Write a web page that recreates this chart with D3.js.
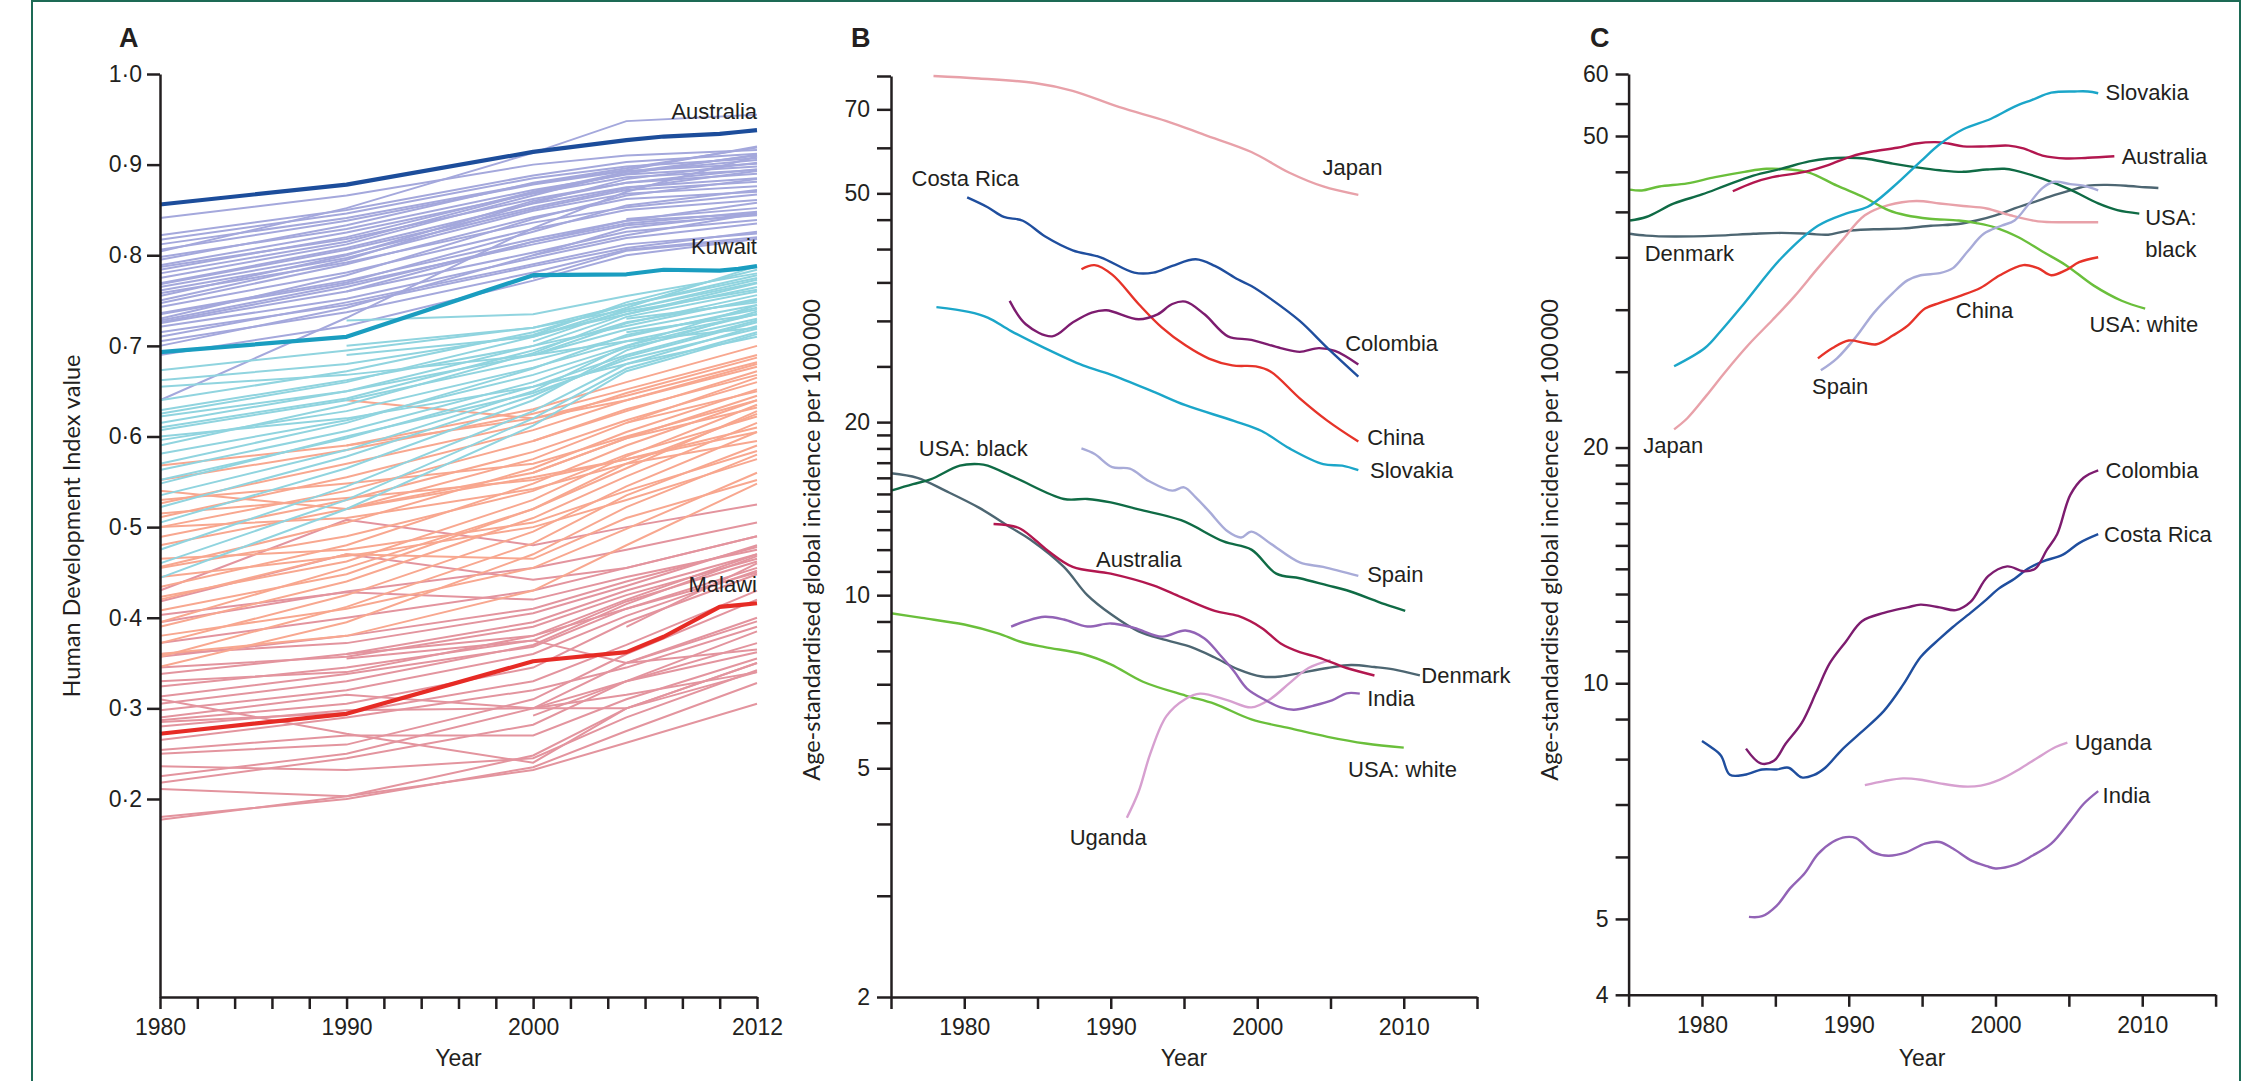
<!DOCTYPE html>
<html>
<head>
  <meta charset="UTF-8">
  <title>HDI and incidence trends</title>
  <style>
    body { margin: 0; background: #fff; }
    svg text { font-family: "Liberation Sans", Arial, sans-serif; fill: #231f20; }
    .axis path, .axis line { stroke: #231f20; stroke-width: 2.5; }
    .axis text { font-size: 23px; }
    .ytitle { font-family: Lato, "Noto Sans", sans-serif !important; font-size: 23.5px; }
    .lbl { font-size: 22px; }
    .panel { font-size: 27px; font-weight: bold; }
  </style>
</head>
<body>
<script src="https://cdnjs.cloudflare.com/ajax/libs/d3/7.8.5/d3.min.js"></script>
<script>
// ---- panel A: HDI by country, 1980-2012 ----
const hdiYears = [1980, 1990, 2000, 2005, 2012];

const hdiVeryHigh = [
  [0.804, 0.852, 0.913, 0.948, 0.955],
  [0.841, 0.866, 0.900, 0.910, 0.916],
  [0.822, 0.850, 0.888, 0.903, 0.912],
  [0.817, 0.846, 0.885, 0.898, 0.907],
  [0.806, 0.838, 0.878, 0.893, 0.901],
  [0.798, 0.829, 0.872, 0.889, 0.898],
  [0.789, 0.825, 0.868, 0.886, 0.894],
  [0.787, 0.818, 0.862, 0.880, 0.890],
  [0.769, 0.808, 0.857, 0.875, 0.885],
  [0.765, 0.801, 0.851, 0.872, 0.881],
  [0.761, 0.797, 0.849, 0.868, 0.876],
  [0.747, 0.790, 0.842, 0.862, 0.870],
  [0.743, 0.781, 0.829, 0.850, 0.861],
  [0.736, 0.772, 0.818, 0.838, 0.846],
  [0.728, 0.768, 0.812, 0.833, 0.844],
  [0.725, 0.760, 0.803, 0.826, 0.839],
  [0.721, 0.752, 0.797, 0.819, 0.835],
  [0.710, 0.748, 0.790, 0.812, 0.824],
  [0.705, 0.737, 0.781, 0.806, 0.820],
  [0.640, 0.731, 0.830, 0.870, 0.909],
  [0.780, 0.815, 0.869, 0.890, 0.911],
  [0.775, 0.812, 0.866, 0.892, 0.910],
  [0.750, 0.795, 0.858, 0.884, 0.902],
  [0.755, 0.800, 0.860, 0.880, 0.895],
  [0.730, 0.778, 0.840, 0.866, 0.884],
  [0.700, 0.742, 0.800, 0.822, 0.846],
  [0.735, 0.770, 0.826, 0.855, 0.872],
  [0.795, 0.833, 0.880, 0.896, 0.919],
  [0.812, 0.841, 0.879, 0.894, 0.920],
  [0.758, 0.792, 0.836, 0.853, 0.867],
  [null, 0.760, 0.815, 0.835, 0.848],
  [null, null, 0.800, 0.830, 0.846],
  [null, null, 0.775, 0.805, 0.818],
  [null, null, null, 0.840, 0.852],
  [0.690, 0.722, 0.772, 0.800, 0.818],
  [0.715, 0.745, 0.788, 0.808, 0.826],
  [0.768, 0.806, 0.853, 0.874, 0.893],
  [0.784, 0.820, 0.870, 0.892, 0.905],
  [0.726, 0.765, 0.815, 0.838, 0.858]
];

const hdiHigh = [
  [0.673, 0.695, 0.720, 0.740, 0.770],
  [0.662, 0.680, 0.712, 0.735, 0.765],
  [0.629, 0.662, 0.700, 0.722, 0.752],
  [0.622, 0.650, 0.690, 0.718, 0.745],
  [0.607, 0.640, 0.684, 0.710, 0.742],
  [0.596, 0.628, 0.676, 0.705, 0.735],
  [0.581, 0.618, 0.668, 0.700, 0.735],
  [0.563, 0.606, 0.660, 0.698, 0.730],
  [0.552, 0.598, 0.655, 0.690, 0.728],
  [0.522, 0.578, 0.645, 0.688, 0.726],
  [0.475, 0.545, 0.628, 0.680, 0.722],
  [0.460, 0.530, 0.620, 0.675, 0.715],
  [0.444, 0.520, 0.612, 0.672, 0.713],
  [0.640, 0.672, 0.715, 0.745, 0.778],
  [0.615, 0.650, 0.700, 0.735, 0.769],
  [0.590, 0.635, 0.692, 0.732, 0.760],
  [0.570, 0.615, 0.675, 0.712, 0.740],
  [0.535, 0.585, 0.650, 0.700, 0.745],
  [0.600, 0.620, 0.655, 0.680, 0.710],
  [0.655, 0.668, 0.690, 0.705, 0.720],
  [null, 0.728, 0.735, 0.755, 0.780],
  [null, 0.700, 0.720, 0.745, 0.775],
  [null, null, 0.705, 0.740, 0.773],
  [null, null, 0.712, 0.748, 0.784],
  [null, null, 0.690, 0.725, 0.756],
  [null, null, null, 0.730, 0.748],
  [null, null, null, 0.715, 0.735],
  [0.548, 0.600, 0.648, 0.685, 0.719],
  [0.505, 0.565, 0.640, 0.695, 0.738],
  [0.625, 0.660, 0.710, 0.738, 0.762],
  [0.610, 0.642, 0.695, 0.726, 0.750],
  [null, 0.690, 0.710, 0.742, 0.788]
];

const hdiMedium = [
  [0.568, 0.590, 0.630, 0.660, 0.700],
  [0.552, 0.585, 0.625, 0.652, 0.690],
  [0.526, 0.570, 0.615, 0.648, 0.687],
  [0.511, 0.555, 0.607, 0.640, 0.680],
  [0.500, 0.540, 0.595, 0.628, 0.672],
  [0.530, 0.548, 0.570, 0.600, 0.640],
  [0.489, 0.530, 0.583, 0.618, 0.660],
  [0.456, 0.505, 0.565, 0.605, 0.652],
  [0.434, 0.480, 0.548, 0.590, 0.640],
  [0.423, 0.462, 0.530, 0.578, 0.635],
  [0.408, 0.448, 0.520, 0.565, 0.628],
  [0.390, 0.440, 0.510, 0.556, 0.615],
  [0.372, 0.425, 0.495, 0.545, 0.605],
  [0.357, 0.412, 0.482, 0.535, 0.590],
  [0.346, 0.395, 0.470, 0.522, 0.580],
  [0.480, 0.520, 0.555, 0.575, 0.605],
  [0.465, 0.475, 0.505, 0.540, 0.584],
  [0.445, 0.468, 0.500, 0.530, 0.575],
  [0.515, 0.532, 0.552, 0.575, 0.610],
  [0.540, 0.520, 0.560, 0.598, 0.645],
  [null, 0.520, 0.575, 0.615, 0.665],
  [null, 0.640, 0.620, 0.640, 0.677],
  [null, 0.590, 0.620, 0.645, 0.682],
  [null, null, 0.595, 0.630, 0.668],
  [null, null, 0.560, 0.598, 0.632],
  [null, null, null, 0.615, 0.650],
  [0.420, 0.470, 0.465, 0.510, 0.552],
  [0.380, 0.410, 0.455, 0.498, 0.560],
  [0.360, 0.380, 0.430, 0.480, 0.548],
  [0.500, 0.510, 0.542, 0.570, 0.595],
  [0.455, 0.490, 0.540, 0.580, 0.622],
  [0.395, 0.455, 0.520, 0.570, 0.625]
];

const hdiLow = [
  [0.403, 0.428, 0.420, 0.445, 0.475],
  [0.372, 0.400, 0.430, 0.455, 0.490],
  [0.357, 0.380, 0.410, 0.440, 0.478],
  [0.338, 0.360, 0.395, 0.430, 0.470],
  [0.324, 0.345, 0.375, 0.418, 0.462],
  [0.313, 0.338, 0.368, 0.410, 0.455],
  [0.298, 0.320, 0.360, 0.402, 0.452],
  [0.287, 0.305, 0.345, 0.395, 0.448],
  [0.280, 0.298, 0.300, 0.330, 0.372],
  [0.254, 0.270, 0.270, 0.310, 0.355],
  [0.236, 0.232, 0.245, 0.290, 0.342],
  [0.218, 0.245, 0.282, 0.330, 0.385],
  [0.211, 0.203, 0.232, 0.262, 0.305],
  [0.180, 0.200, 0.235, 0.275, 0.328],
  [0.177, 0.203, 0.248, 0.300, 0.350],
  [0.418, 0.470, 0.442, 0.455, 0.490],
  [0.430, 0.508, 0.480, 0.500, 0.525],
  [0.395, 0.429, 0.455, 0.475, 0.505],
  [0.345, 0.357, 0.390, 0.425, 0.465],
  [0.310, 0.272, 0.240, 0.300, 0.350],
  [0.290, 0.315, 0.300, 0.315, 0.340],
  [0.265, 0.290, 0.320, 0.345, 0.390],
  [0.250, 0.260, 0.310, 0.360, 0.420],
  [0.225, 0.250, 0.300, 0.350, 0.396],
  [null, 0.360, 0.380, 0.410, 0.450],
  [null, 0.355, 0.375, 0.350, 0.365],
  [null, null, 0.292, 0.330, 0.362],
  [null, null, 0.300, 0.300, 0.340],
  [null, null, null, 0.350, 0.400],
  [null, null, null, 0.390, 0.460],
  [0.330, 0.340, 0.380, 0.420, 0.470],
  [0.305, 0.330, 0.370, 0.415, 0.468],
  [0.285, 0.295, 0.330, 0.370, 0.430],
  [0.360, 0.372, 0.405, 0.435, 0.480]
];

const focusYears = [1980, 1990, 2000, 2005, 2007, 2010, 2011, 2012];
const hdiAustralia = [0.856, 0.878, 0.914, 0.927, 0.931, 0.934, 0.936, 0.938];
const hdiKuwait    = [0.693, 0.710, 0.778, 0.779, 0.784, 0.783, 0.785, 0.788];
const hdiMalawi    = [0.272, 0.294, 0.352, 0.362, 0.379, 0.412, 0.414, 0.416];

// ---- panel B: declining incidence [year, rate] ----
const bJapan = [[1977.9,80.0],[1981,79.2],[1984.8,77.8],[1987.4,75.4],[1990.6,70.6],[1993.8,66.8],[1996.4,63.2],[1999.6,59.0],[2002.2,54.3],[2004.5,51.4],[2006.9,49.7]];
const bCostaRica = [[1980.2,49.2],[1981.6,47.3],[1982.7,45.5],[1984.0,44.8],[1985.5,42.1],[1987.4,39.8],[1989.3,38.7],[1991.6,36.4],[1992.9,36.4],[1994.2,37.4],[1995.8,38.4],[1997.1,37.4],[1998.7,35.4],[1999.6,34.5],[2000.9,32.8],[2002.9,30.0],[2004.8,26.9],[2006.9,24.0]];
const bColombia = [[1983.1,32.5],[1984.2,29.6],[1986.0,28.2],[1987.4,29.8],[1988.7,31.0],[1989.7,31.3],[1991.9,30.2],[1993.2,30.8],[1994.2,32.1],[1995.1,32.4],[1996.4,30.8],[1998.0,28.2],[1999.6,27.8],[2001.6,26.9],[2002.9,26.5],[2004.2,26.9],[2005.3,26.6],[2006.9,25.2]];
const bChina = [[1988.0,36.9],[1988.9,37.5],[1990.1,36.1],[1991.9,32.1],[1993.5,29.2],[1995.1,27.2],[1996.7,25.8],[1998.3,25.1],[1999.9,25.0],[2000.9,24.5],[2002.9,22.0],[2004.8,20.1],[2006.9,18.5]];
const bSlovakia = [[1978.1,31.7],[1980.3,31.1],[1981.6,30.4],[1983.2,28.8],[1985.5,26.9],[1988.1,25.1],[1990.0,24.2],[1992.9,22.6],[1995.1,21.4],[1998.4,20.1],[2000.3,19.3],[2002.2,18.0],[2004.5,16.9],[2005.8,16.8],[2006.9,16.5]];
const bSpain = [[1988.0,18.0],[1988.9,17.6],[1990.1,16.7],[1991.3,16.6],[1992.6,15.8],[1994.2,15.2],[1995.0,15.4],[1995.8,14.8],[1996.7,14.0],[1998.0,12.9],[1998.9,12.6],[1999.6,12.9],[2000.9,12.3],[2002.9,11.4],[2004.5,11.2],[2006.9,10.8]];
const bUsaBlack = [[1975.0,15.2],[1976.5,15.6],[1977.7,15.9],[1979.7,16.8],[1981.0,16.9],[1981.6,16.8],[1983.5,16.0],[1986.8,14.7],[1988.4,14.7],[1990.0,14.5],[1991.9,14.1],[1994.8,13.5],[1997.7,12.4],[1999.6,12.0],[2001.3,10.9],[2002.9,10.7],[2004.8,10.4],[2006.1,10.2],[2008.7,9.65],[2010.1,9.39]];
const bDenmark = [[1975.0,16.3],[1976.8,16.0],[1978.7,15.2],[1981.0,14.2],[1983.2,13.1],[1984.5,12.5],[1986.8,11.2],[1988.4,10.0],[1990.0,9.27],[1991.9,8.65],[1993.8,8.35],[1995.5,8.12],[1997.1,7.79],[1998.7,7.43],[2000.3,7.22],[2001.6,7.22],[2002.9,7.32],[2004.8,7.47],[2006.4,7.56],[2008.0,7.5],[2009.3,7.43],[2011.1,7.25]];
const bAustralia = [[1982.0,13.3],[1983.7,13.1],[1984.8,12.5],[1985.8,11.9],[1987.4,11.2],[1990.0,10.9],[1992.9,10.4],[1994.8,9.92],[1997.1,9.39],[1998.7,9.2],[2000.3,8.77],[2001.6,8.24],[2002.9,7.96],[2004.2,7.79],[2006.1,7.47],[2008.0,7.25]];
const bIndia = [[1983.2,8.82],[1984.2,9.01],[1985.5,9.17],[1986.8,9.07],[1988.4,8.82],[1990.0,8.93],[1991.6,8.77],[1993.5,8.47],[1995.1,8.68],[1996.4,8.41],[1997.4,7.9],[1998.4,7.38],[1999.3,6.88],[2000.6,6.56],[2001.6,6.38],[2002.5,6.32],[2003.8,6.42],[2005.1,6.56],[2006.1,6.75],[2007.0,6.74]];
const bUganda = [[1991.1,4.1],[1991.9,4.55],[1992.7,5.3],[1993.8,6.16],[1995.1,6.6],[1996.1,6.74],[1998.0,6.56],[1999.6,6.38],[2000.9,6.6],[2002.2,7.03],[2003.5,7.47],[2005.0,7.71]];
const bUsaWhite = [[1975.0,9.3],[1977.1,9.13],[1980.0,8.89],[1982.3,8.58],[1983.9,8.29],[1985.5,8.12],[1988.1,7.9],[1990.0,7.58],[1992.2,7.07],[1995.1,6.69],[1997.1,6.47],[1999.6,6.08],[2002.2,5.87],[2004.8,5.67],[2007.4,5.52],[2010.0,5.43]];

// ---- panel C: increasing incidence [year, rate] ----
const cSlovakia = [[1978.1,25.4],[1980.2,26.8],[1981.3,28.2],[1982.9,30.6],[1985.4,34.9],[1987.9,38.4],[1989.8,39.8],[1991.3,40.6],[1993.0,43.0],[1994.9,46.4],[1996.2,48.8],[1997.8,51.0],[1999.7,52.6],[2001.3,54.5],[2002.5,55.6],[2003.8,56.8],[2005.4,57.0],[2006.3,57.0],[2007.0,56.7]];
const cAustralia = [[1982.1,42.5],[1983.5,43.6],[1984.8,44.3],[1987.0,45.0],[1988.6,45.9],[1990.2,47.1],[1991.7,47.8],[1993.3,48.3],[1994.6,48.9],[1995.9,49.1],[1996.8,48.9],[1997.8,48.5],[1999.4,48.5],[2000.9,48.6],[2001.9,48.2],[2003.2,47.2],[2004.8,46.8],[2006.3,46.9],[2008.1,47.1]];
const cUsaBlack = [[1975.1,39.0],[1976.2,39.4],[1978.1,41.0],[1980.0,42.1],[1981.6,43.2],[1983.5,44.5],[1985.4,45.4],[1987.3,46.4],[1988.6,46.8],[1989.8,46.9],[1991.1,46.8],[1993.0,46.1],[1994.6,45.6],[1996.2,45.2],[1997.8,45.0],[1999.4,45.3],[2000.6,45.4],[2001.3,45.2],[2003.2,44.1],[2005.1,42.7],[2007.0,41.0],[2008.3,40.2],[2009.8,39.8]];
const cUsaWhite = [[1975.1,42.7],[1975.9,42.6],[1977.1,43.1],[1979.0,43.5],[1980.9,44.3],[1982.9,45.0],[1984.4,45.4],[1986.0,45.3],[1987.3,44.9],[1989.2,43.2],[1991.1,41.7],[1992.7,40.2],[1993.9,39.6],[1995.5,39.2],[1997.5,39.0],[1998.7,38.7],[2000.0,38.2],[2001.6,37.1],[2003.2,35.6],[2004.8,34.2],[2006.7,32.2],[2008.6,30.8],[2010.2,30.1]];
const cJapan = [[1978.1,21.1],[1979.0,21.8],[1980.3,23.3],[1981.6,25.0],[1983.2,27.1],[1984.8,29.1],[1986.3,31.2],[1987.9,33.9],[1989.5,36.7],[1991.1,39.6],[1992.7,40.8],[1994.6,41.3],[1996.2,41.0],[1997.8,40.7],[1999.4,40.4],[2001.0,39.6],[2002.9,38.9],[2004.8,38.8],[2007.0,38.8]];
const cDenmark = [[1975.1,37.5],[1976.2,37.3],[1978.1,37.2],[1981.0,37.3],[1983.5,37.5],[1985.4,37.6],[1987.3,37.5],[1988.6,37.4],[1989.8,37.8],[1991.7,38.0],[1993.7,38.1],[1995.6,38.4],[1997.5,38.6],[1998.7,39.0],[2000.0,39.6],[2001.3,40.4],[2002.5,41.1],[2003.8,41.9],[2005.1,42.6],[2006.3,43.2],[2007.6,43.3],[2008.9,43.2],[2010.2,43.0],[2011.1,42.9]];
const cSpain = [[1988.1,25.1],[1989.2,26.0],[1990.5,27.7],[1991.7,29.7],[1993.0,31.5],[1994.0,32.7],[1994.9,33.2],[1996.2,33.4],[1997.1,33.9],[1998.1,35.6],[1999.2,37.5],[2000.4,38.4],[2001.3,39.0],[2002.3,41.0],[2003.2,42.9],[2004.0,43.7],[2005.1,43.4],[2006.0,43.2],[2007.0,42.6]];
const cChina = [[1987.9,26.0],[1988.9,26.8],[1990.0,27.4],[1991.1,27.2],[1991.9,27.1],[1993.0,27.8],[1994.0,28.6],[1995.2,30.1],[1996.2,30.6],[1997.5,31.2],[1999.0,32.0],[2000.3,33.2],[2001.9,34.2],[2002.9,33.9],[2003.8,33.2],[2004.8,33.7],[2005.7,34.5],[2007.0,35.0]];
const cColombia = [[1983.0,8.25],[1984.0,7.90],[1984.9,7.96],[1985.7,8.37],[1986.8,8.90],[1987.8,9.75],[1988.7,10.6],[1989.8,11.3],[1990.9,12.0],[1992.4,12.3],[1994.0,12.5],[1994.9,12.6],[1996.2,12.5],[1997.3,12.4],[1998.3,12.7],[1999.5,13.7],[2000.8,14.1],[2001.9,13.9],[2002.7,14.0],[2003.5,14.8],[2004.2,15.5],[2005.1,17.4],[2006.0,18.3],[2007.0,18.7]];
const cCostaRica = [[1980.0,8.44],[1980.6,8.29],[1981.3,8.08],[1981.9,7.64],[1982.9,7.64],[1984.1,7.76],[1985.1,7.76],[1985.9,7.80],[1986.8,7.58],[1987.6,7.63],[1988.4,7.80],[1989.5,8.21],[1990.8,8.64],[1992.4,9.22],[1993.7,9.95],[1994.9,10.8],[1996.2,11.4],[1997.1,11.8],[1998.3,12.3],[1999.4,12.8],[2000.2,13.2],[2001.3,13.6],[2002.2,14.0],[2003.2,14.3],[2004.6,14.6],[2005.7,15.1],[2007.0,15.5]];
const cUganda = [[1991.1,7.41],[1992.4,7.50],[1993.7,7.56],[1994.9,7.53],[1996.2,7.45],[1997.8,7.38],[1999.0,7.40],[2000.3,7.53],[2001.6,7.76],[2002.9,8.04],[2004.1,8.29],[2004.9,8.40]];
const cIndia = [[1983.2,5.03],[1984.1,5.04],[1985.1,5.20],[1986.0,5.47],[1987.0,5.72],[1987.9,6.05],[1988.9,6.27],[1989.8,6.36],[1990.5,6.34],[1991.7,6.08],[1992.7,6.02],[1993.9,6.08],[1995.2,6.24],[1996.2,6.27],[1997.1,6.15],[1998.4,5.93],[1999.4,5.84],[2000.0,5.80],[2001.3,5.86],[2002.5,6.02],[2003.8,6.24],[2005.1,6.67],[2006.0,7.01],[2007.0,7.28]];

// label anchors [text, year, rate]
const labelsB = [["Japan",2004.46,55.5],["Costa Rica",1976.4,53.1],["Colombia",2006.0,27.4],["China",2007.5,18.8],["Slovakia",2007.7,16.5],["USA: black",1976.9,18.0],["Australia",1989.0,11.55],["Spain",2007.5,10.86],["Denmark",2011.2,7.26],["India",2007.5,6.62],["USA: white",2006.2,4.98],["Uganda",1987.2,3.79]];
const labelsC = [["Slovakia",2007.5,56.9],["Australia",2008.6,47.1],["USA:",2010.2,39.4],["black",2010.2,35.8],["Denmark",1976.1,35.4],["China",1997.3,29.9],["USA: white",2006.4,28.7],["Spain",1987.5,23.9],["Japan",1976.0,20.1],["Colombia",2007.5,18.7],["Costa Rica",2007.4,15.5],["Uganda",2005.4,8.40],["India",2007.3,7.19]];

const col = {
  "Japan": "#e8a1a9", "Costa Rica": "#1f4e9e", "Colombia": "#7d1c6f", "China": "#e63329",
  "Slovakia": "#1ba6c9", "Spain": "#a8abd8", "USA: black": "#0f6b45", "Denmark": "#4d6672",
  "Australia": "#b2174f", "India": "#9263b6", "Uganda": "#d7a0d0", "USA: white": "#6abf3b"
};

const W = 2251, H = 1081;
const svg = d3.select("body").append("svg").attr("width", W).attr("height", H);

// frame
svg.append("path")
  .attr("d", "M32,1081V1H2240V1081")
  .attr("fill", "none").attr("stroke", "#1d6a55").attr("stroke-width", 2);

function yTitle(x, y, txt) {
  svg.append("text").attr("class", "ytitle")
    .attr("transform", "translate(" + x + "," + y + ") rotate(-90)")
    .attr("text-anchor", "middle").text(txt);
}
function xTitle(x, txt) {
  svg.append("text").attr("x", x).attr("y", 1058).attr("text-anchor", "middle")
    .attr("dominant-baseline", "central").style("font-size", "23px").text(txt);
}
function panelLetter(x, txt) {
  svg.append("text").attr("class", "panel").attr("x", x).attr("y", 47).text(txt);
}

// ---------- A ----------
const xA = d3.scaleLinear().domain([1980, 2012]).range([160, 757]);
const yA = d3.scaleLinear().domain([-0.0185, 1]).range([997, 74]);
const lineA = d3.line().defined(d => d[1] != null).x(d => xA(d[0])).y(d => yA(d[1]));

const gA = svg.append("g");
[[hdiVeryHigh, "#a4a8dc"], [hdiLow, "#e3949e"], [hdiMedium, "#f8a78f"], [hdiHigh, "#90d4df"]].forEach(([rows, c]) => {
  gA.selectAll(null).data(rows).enter().append("path")
    .attr("d", r => lineA(hdiYears.map((yr, i) => [yr, r[i]])))
    .attr("fill", "none").attr("stroke", c).attr("stroke-width", 2);
});
[[hdiAustralia, "#1c4d9b"], [hdiKuwait, "#1a9dc0"], [hdiMalawi, "#e62b25"]].forEach(([r, c]) => {
  gA.append("path").attr("d", lineA(focusYears.map((yr, i) => [yr, r[i]])))
    .attr("fill", "none").attr("stroke", c).attr("stroke-width", 4.2).attr("stroke-linejoin", "round");
});
[["Australia", 0.959], ["Kuwait", 0.8095], ["Malawi", 0.437]].forEach(([t, v]) => {
  svg.append("text").attr("class", "lbl").attr("x", xA(2012)).attr("y", yA(v))
    .attr("text-anchor", "end").attr("dominant-baseline", "central").text(t);
});

svg.append("g").attr("class", "axis").attr("transform", "translate(160,0)")
  .call(d3.axisLeft(yA).tickValues([0.2, 0.3, 0.4, 0.5, 0.6, 0.7, 0.8, 0.9, 1.0])
    .tickSize(13).tickPadding(5).tickSizeOuter(0)
    .tickFormat(d => d3.format(".1f")(d).replace(".", "\u00b7")));
svg.append("g").attr("class", "axis").attr("transform", "translate(0,997)")
  .call(d3.axisBottom(xA).tickValues(d3.range(1980, 2013, 2))
    .tickSize(12).tickPadding(10).tickSizeOuter(0)
    .tickFormat(d => [1980, 1990, 2000, 2012].includes(d) ? d : ""));
yTitle(80, 526, "Human Development Index value");
xTitle(xA(1996), "Year");
panelLetter(119, "A");

// ---------- B and C ----------
function incidencePanel(x, y, series, labels, yTicks, yLabels, tick) {
  const line = d3.line().x(d => x(d[0])).y(d => y(d[1])).curve(d3.curveCatmullRom.alpha(0.5));
  const g = svg.append("g");
  g.selectAll(null).data(series).enter().append("path")
    .attr("d", s => line(s[1]))
    .attr("fill", "none").attr("stroke", s => col[s[0]]).attr("stroke-width", 2.4);
  labels.forEach(([t, yr, v]) => {
    g.append("text").attr("class", "lbl").attr("x", x(yr)).attr("y", y(v))
      .attr("dominant-baseline", "central").text(t);
  });
  svg.append("g").attr("class", "axis").attr("transform", "translate(" + x.range()[0] + ",0)")
    .call(d3.axisLeft(y).tickValues(yTicks).tickSize(tick).tickPadding(7).tickSizeOuter(0)
      .tickFormat(d => yLabels.includes(d) ? d : ""));
  svg.append("g").attr("class", "axis").attr("transform", "translate(0," + y.range()[0] + ")")
    .call(d3.axisBottom(x).tickValues(d3.range(1975, 2016, 5)).tickSize(12).tickPadding(10)
      .tickSizeOuter(0).tickFormat(d => d % 10 === 0 && d >= 1980 && d <= 2010 ? d : ""));
}

const xB = d3.scaleLinear().domain([1975, 2015]).range([891, 1477]);
const yB = d3.scaleLog().domain([2, 80]).range([997, 76]);
incidencePanel(xB, yB,
  [["Japan", bJapan], ["Slovakia", bSlovakia], ["USA: white", bUsaWhite], ["Denmark", bDenmark],
   ["USA: black", bUsaBlack], ["Spain", bSpain], ["Uganda", bUganda], ["India", bIndia],
   ["Australia", bAustralia], ["China", bChina], ["Colombia", bColombia], ["Costa Rica", bCostaRica]],
  labelsB,
  [2, 3, 4, 5, 6, 7, 8, 9, 10, 11, 12, 13, 14, 15, 16, 17, 18, 19, 20, 25, 30, 35, 40, 45, 50, 60, 70, 80],
  [2, 5, 10, 20, 50, 70], 14);
yTitle(820, 540, "Age-standardised global incidence per 100\u2009000");
xTitle(xB(1995), "Year");
panelLetter(851, "B");

const xC = d3.scaleLinear().domain([1975, 2015]).range([1628.6, 2215.6]);
const yC = d3.scaleLog().domain([4, 60]).range([994.8, 74]);
incidencePanel(xC, yC,
  [["Denmark", cDenmark], ["Japan", cJapan], ["USA: white", cUsaWhite], ["USA: black", cUsaBlack],
   ["Australia", cAustralia], ["Spain", cSpain], ["China", cChina], ["Slovakia", cSlovakia],
   ["Uganda", cUganda], ["India", cIndia], ["Costa Rica", cCostaRica], ["Colombia", cColombia]],
  labelsC,
  [4, 5, 6, 7, 8, 9, 10, 11, 12, 13, 14, 15, 16, 17, 18, 19, 20, 25, 30, 35, 40, 45, 50, 55, 60],
  [4, 5, 10, 20, 50, 60], 13);
yTitle(1558, 540, "Age-standardised global incidence per 100\u2009000");
xTitle(xC(1995), "Year");
panelLetter(1590, "C");
</script>
</body>
</html>
